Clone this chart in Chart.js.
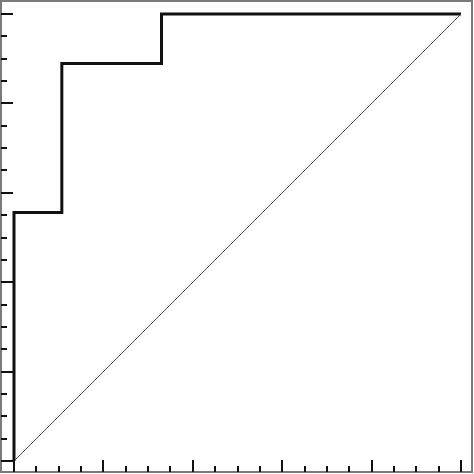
<!DOCTYPE html>
<html>
<head>
<meta charset="utf-8">
<script src="https://cdn.jsdelivr.net/npm/chart.js@4"></script>
<style>
  html, body { margin: 0; padding: 0; background: #fff; }
  #wrap { width: 474px; height: 474px; }
</style>
</head>
<body>
<div id="wrap"><canvas id="rocChart" width="474" height="474"></canvas></div>
<script>
// ROC curve
const fpr = [0, 0, 0.107, 0.107, 0.33, 0.33, 1];
const tpr = [0, 0.556, 0.556, 0.889, 0.889, 1, 1];
const chanceX = [0, 1];
const chanceY = [0, 1];

// tick marks (no labels on either axis)
const majorTicks = [0, 0.2, 0.4, 0.6, 0.8, 1];
const minorTicks = [0.05, 0.1, 0.15, 0.25, 0.3, 0.35, 0.45, 0.5, 0.55,
                    0.65, 0.7, 0.75, 0.85, 0.9, 0.95];

function toPoints(xs, ys) {
    return xs.map((x, i) => ({ x: x, y: ys[i] }));
}

// frame round the whole plot and inward ticks on left and bottom
const framePlugin = {
    id: 'frame',
    afterDraw(chart) {
        const ctx = chart.ctx;
        const area = chart.chartArea;
        const xs = chart.scales.x;
        const ys = chart.scales.y;
        const left = area.left - 13, right = area.right + 11;
        const top = area.top - 13, bottom = area.bottom + 11;

        ctx.save();
        ctx.strokeStyle = '#7a7a7a';
        ctx.lineWidth = 2;
        ctx.strokeRect(left, top, right - left, bottom - top);

        ctx.strokeStyle = '#111';
        ctx.lineWidth = 2;
        ctx.beginPath();
        majorTicks.concat(minorTicks).forEach(v => {
            const len = majorTicks.includes(v) ? 12 : 6;
            const py = Math.round(ys.getPixelForValue(v));
            ctx.moveTo(left, py);
            ctx.lineTo(left + len, py);
            const px = Math.round(xs.getPixelForValue(v));
            ctx.moveTo(px, bottom);
            ctx.lineTo(px, bottom - len);
        });
        ctx.stroke();
        ctx.restore();
    }
};

function initRocChart() {
    const ctx = document.getElementById('rocChart').getContext('2d');
    new Chart(ctx, {
        type: 'scatter',
        data: {
            datasets: [{
                data: toPoints(chanceX, chanceY),
                showLine: true,
                borderColor: '#555',
                borderWidth: 1,
                pointRadius: 0,
                clip: false
            }, {
                data: toPoints(fpr, tpr),
                showLine: true,
                borderColor: '#111',
                borderWidth: 3,
                borderJoinStyle: 'miter',
                pointRadius: 0,
                clip: false
            }]
        },
        options: {
            responsive: false,
            animation: false,
            layout: { padding: { left: 14, top: 14, right: 13, bottom: 13 } },
            plugins: {
                legend: { display: false },
                tooltip: { enabled: false }
            },
            scales: {
                x: { type: 'linear', min: 0, max: 1, display: false },
                y: { type: 'linear', min: 0, max: 1, display: false }
            }
        },
        plugins: [framePlugin]
    });
}

initRocChart();
</script>
</body>
</html>
